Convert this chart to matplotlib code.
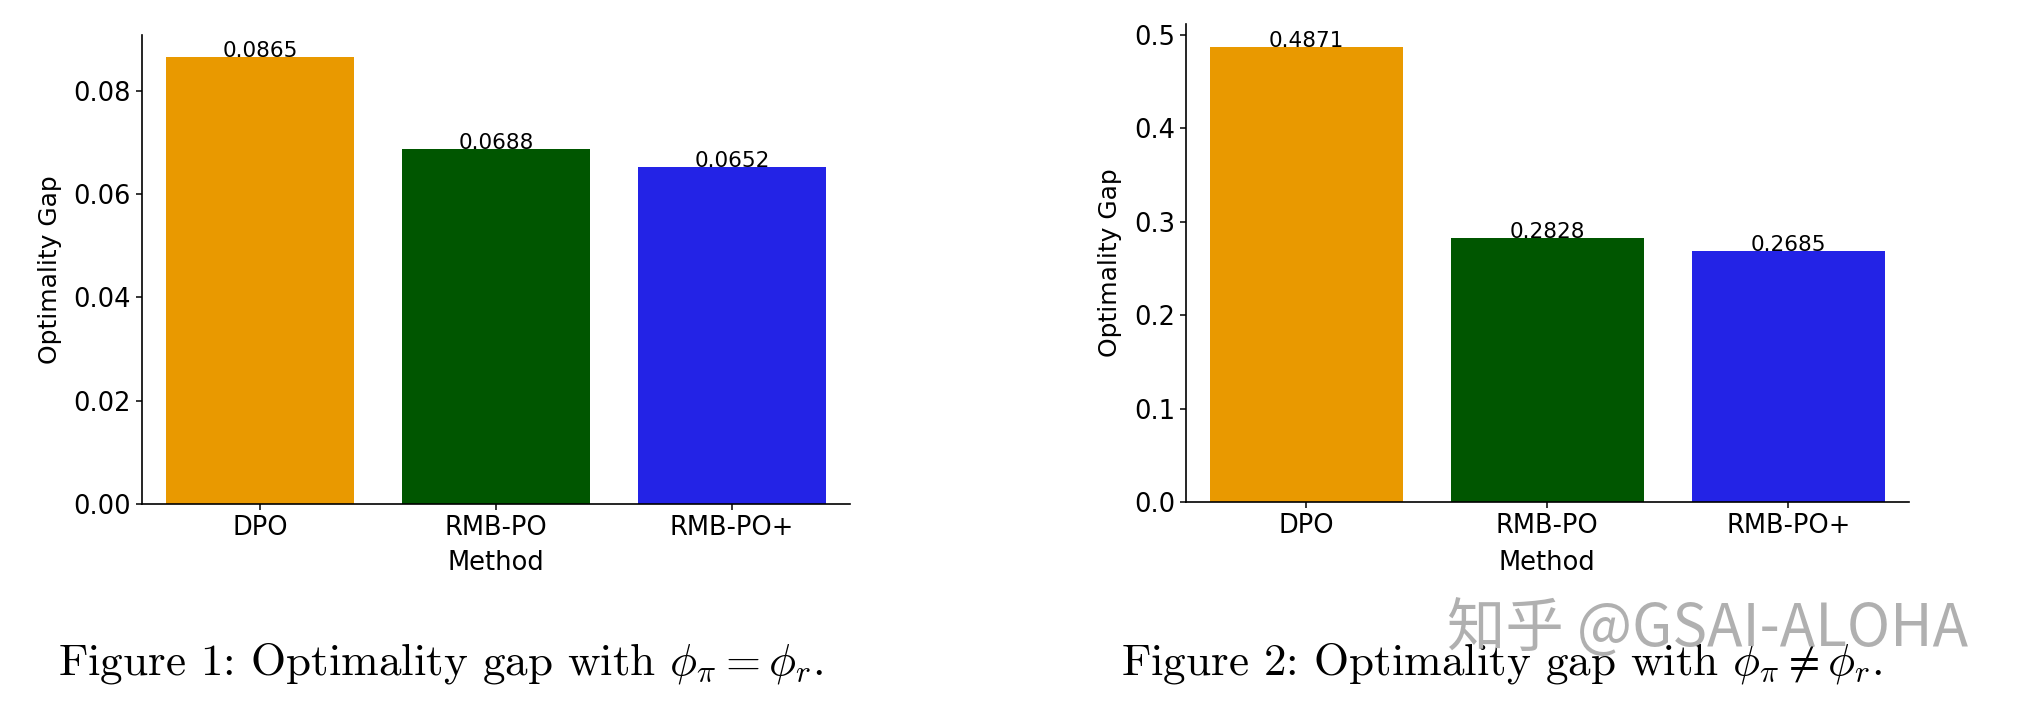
import matplotlib
matplotlib.use("Agg")
import matplotlib.pyplot as plt

methods = ["DPO", "RMB-PO", "RMB-PO+"]
gap_same = [0.0865, 0.0688, 0.0652]
gap_diff = [0.4871, 0.2828, 0.2685]
bar_colors = ["#e99900", "#005600", "#2323e6"]

captions = [r"Figure 1: Optimality gap with $\phi_\pi = \phi_r$.",
            r"Figure 2: Optimality gap with $\phi_\pi \neq \phi_r$."]

plt.rcParams["mathtext.fontset"] = "cm"

fig = plt.figure(figsize=(20.24, 7.1), dpi=100)
ax1 = fig.add_axes([0.0702, 0.2901, 0.3498, 0.6606])
ax2 = fig.add_axes([0.5860, 0.2930, 0.3570, 0.6730])


def draw_panel(ax, values, ylab_x, xlab_y):
    x = range(len(methods))
    ax.bar(x, values, color=bar_colors, width=0.8)
    for i, v in enumerate(values):
        ax.text(i, v, str(v), ha="center", va="baseline", fontsize=15.5)
    ax.set_xticks(list(x))
    ax.set_xticklabels(methods)
    ax.set_xlim(-0.5, 2.5)
    ax.tick_params(labelsize=18.5, length=4.5, width=1.1)
    ax.set_xlabel("Method", fontsize=18.5)
    ax.set_ylabel("Optimality Gap", fontsize=18)
    ax.yaxis.set_label_coords(ylab_x, 0.5)
    ax.xaxis.set_label_coords(0.5, xlab_y)
    ax.spines["top"].set_visible(False)
    ax.spines["right"].set_visible(False)
    for s in ["left", "bottom"]:
        ax.spines[s].set_linewidth(1.2)


draw_panel(ax1, gap_same, -0.113, -0.098)
draw_panel(ax2, gap_diff, -0.089, -0.100)

fig.text(441 / 2024, 1 - 674 / 710, captions[0], ha="center", va="baseline",
         fontsize=32.5, family="cmr10")
fig.text(1502 / 2024, 1 - 674 / 710, captions[1], ha="center", va="baseline",
         fontsize=32.5, family="cmr10")

# watermark
fig.text(1708 / 2024, 1 - 629 / 710, "知乎 @GSAI-ALOHA", ha="center", va="center",
         fontsize=42, color="#b0b0b0", family=["Noto Sans CJK SC", "DejaVu Sans"])

fig.savefig("out.png", dpi=100)
